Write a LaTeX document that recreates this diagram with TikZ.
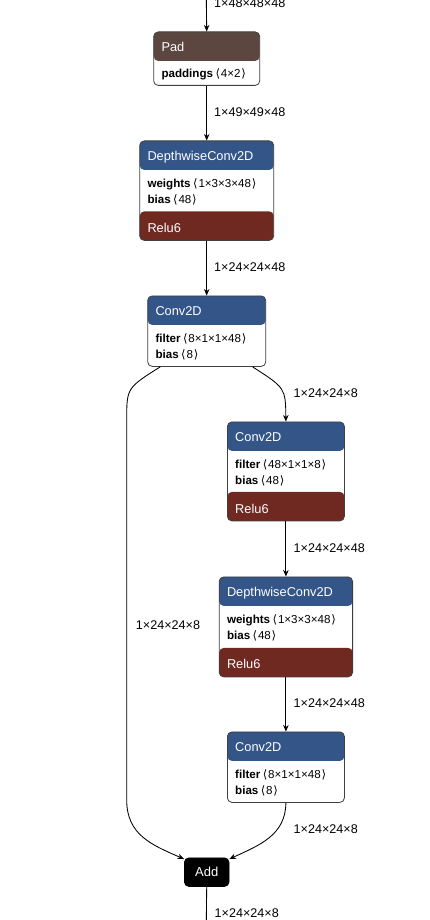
\documentclass[tikz,border=0pt]{standalone}
\usepackage{fontspec}
\setmainfont{Liberation Sans}
\newfontfamily\brfont{DejaVu Sans}
\usetikzlibrary{arrows.meta}
\definecolor{laycol}{RGB}{51,85,136}
\definecolor{actcol}{RGB}{112,41,33}
\definecolor{padcol}{RGB}{92,70,64}
\definecolor{boxline}{RGB}{64,64,64}
\newcommand{\shp}[1]{\hspace{2.5pt}{\brfont ⟨}\hspace{0.8pt}#1\hspace{0.8pt}{\brfont ⟩}}
\tikzset{
  opbox/.style={draw=boxline, line width=0.8pt, rounded corners=4.5pt, inner sep=0pt, anchor=north west, fill=white},
  tophead/.style={path picture={\fill[#1] (path picture bounding box.north west) rectangle ([yshift=-29pt]path picture bounding box.north east);}},
  bothead/.style 2 args={path picture={
      \fill[#1] (path picture bounding box.north west) rectangle ([yshift=-29pt]path picture bounding box.north east);
      \fill[#2] (path picture bounding box.south west) rectangle ([yshift=29pt]path picture bounding box.south east);}},
  title/.style={anchor=base west, inner sep=0pt, text=white, font=\fontsize{12.8}{15}\selectfont},
  attr/.style={anchor=base west, inner sep=0pt, font=\fontsize{11.6}{13}\selectfont},
  lbl/.style={anchor=base west, inner sep=0pt, font=\fontsize{12.6}{14}\selectfont},
  edge/.style={draw=black, line width=0.85pt, -{Stealth[length=6.5pt,width=5.5pt]}},
}
\begin{document}
\begin{tikzpicture}[x=1pt,y=-1pt]
  \useasboundingbox (0,0) rectangle (430,920);
  % boxes
  \node[opbox, tophead=padcol, minimum width=106pt, minimum height=53.5pt] (pad) at (153.3,31.5) {};
  \node[opbox, bothead={laycol}{actcol}, minimum width=134pt, minimum height=99.5pt] (dwa) at (139.3,140.5) {};
  \node[opbox, tophead=laycol, minimum width=118pt, minimum height=70.5pt] (cva) at (147.3,295.5) {};
  \node[opbox, bothead={laycol}{actcol}, minimum width=117pt, minimum height=99pt] (cvb) at (227,421.5) {};
  \node[opbox, bothead={laycol}{actcol}, minimum width=133.4pt, minimum height=100pt] (dwb) at (218.8,576.5) {};
  \node[opbox, tophead=laycol, minimum width=117pt, minimum height=70.5pt] (cvc) at (227,731.5) {};
  \node[opbox, draw=black, fill=black, minimum width=44.6pt, minimum height=28.5pt, text=white, font=\fontsize{13}{15}\selectfont] (add) at (184,857.5) {Add};
  % texts
  \node[title] (pad-t) at ([xshift=8pt,yshift=-20.5pt]pad.north west) {Pad};
  \node[attr] (pad-a) at ([xshift=8pt,yshift=-46pt]pad.north west) {\textbf{paddings}\shp{4×2}};
  \node[title] (dwa-t) at ([xshift=8pt,yshift=-20pt]dwa.north west) {DepthwiseConv2D};
  \node[attr] (dwa-a) at ([xshift=8pt,yshift=-46.5pt]dwa.north west) {\textbf{weights}\shp{1×3×3×48}};
  \node[attr] (dwa-b) at ([xshift=8pt,yshift=-63pt]dwa.north west) {\textbf{bias}\shp{48}};
  \node[title] (dwa-r) at ([xshift=8pt,yshift=-91.5pt]dwa.north west) {Relu6};
  \node[title] (cva-t) at ([xshift=8pt,yshift=-20pt]cva.north west) {Conv2D};
  \node[attr] (cva-a) at ([xshift=8pt,yshift=-46.5pt]cva.north west) {\textbf{filter}\shp{8×1×1×48}};
  \node[attr] (cva-b) at ([xshift=8pt,yshift=-63pt]cva.north west) {\textbf{bias}\shp{8}};
  \node[title] (cvb-t) at ([xshift=8pt,yshift=-20pt]cvb.north west) {Conv2D};
  \node[attr] (cvb-a) at ([xshift=8pt,yshift=-46.5pt]cvb.north west) {\textbf{filter}\shp{48×1×1×8}};
  \node[attr] (cvb-b) at ([xshift=8pt,yshift=-63pt]cvb.north west) {\textbf{bias}\shp{48}};
  \node[title] (cvb-r) at ([xshift=8pt,yshift=-91.5pt]cvb.north west) {Relu6};
  \node[title] (dwb-t) at ([xshift=8pt,yshift=-20pt]dwb.north west) {DepthwiseConv2D};
  \node[attr] (dwb-a) at ([xshift=8pt,yshift=-46.5pt]dwb.north west) {\textbf{weights}\shp{1×3×3×48}};
  \node[attr] (dwb-b) at ([xshift=8pt,yshift=-63pt]dwb.north west) {\textbf{bias}\shp{48}};
  \node[title] (dwb-r) at ([xshift=8pt,yshift=-91.5pt]dwb.north west) {Relu6};
  \node[title] (cvc-t) at ([xshift=8pt,yshift=-20pt]cvc.north west) {Conv2D};
  \node[attr] (cvc-a) at ([xshift=8pt,yshift=-46.5pt]cvc.north west) {\textbf{filter}\shp{8×1×1×48}};
  \node[attr] (cvc-b) at ([xshift=8pt,yshift=-63pt]cvc.north west) {\textbf{bias}\shp{8}};
  % connectors
  \coordinate (src) at (206.3,-2);
  \coordinate (snk) at (206.3,922);
  \draw[edge] (src) -- (pad.north);
  \draw[edge] (pad.south) -- (dwa.north);
  \draw[edge] (dwa.south) -- (cva.north);
  \draw[edge] ([xshift=-13.6pt]cva.south east) .. controls (285.5,388) .. (cvb.north);
  \draw[edge] (cvb.south) -- (dwb.north);
  \draw[edge] (dwb.south) -- (cvc.north);
  \draw[edge] (cvc.south) .. controls (285.5,835) and (260,845) .. ([yshift=-1.5pt]add.north east);
  \draw[edge] ([xshift=13pt]cva.south west) .. controls (126.7,388) .. (126.7,420) -- (126.7,800)
      .. controls (126.7,835) and (152,845) .. ([yshift=-1.5pt]add.north west);
  \draw[line width=0.85pt] (add.south) -- (snk);
  % shape labels
  \node[lbl] (l0) at (214,7.3) {1×48×48×48};
  \node[lbl] (l1) at (214,116.7) {1×49×49×48};
  \node[lbl] (l2) at (214,271.5) {1×24×24×48};
  \node[lbl] (l3) at (293.5,397) {1×24×24×8};
  \node[lbl] (l4) at (293.5,552.5) {1×24×24×48};
  \node[lbl] (l5) at (293.5,707.7) {1×24×24×48};
  \node[lbl] (l6) at (293.5,833) {1×24×24×8};
  \node[lbl] (l7) at (135.7,629) {1×24×24×8};
  \node[lbl] (l8) at (214.5,917) {1×24×24×8};
\end{tikzpicture}
\end{document}
